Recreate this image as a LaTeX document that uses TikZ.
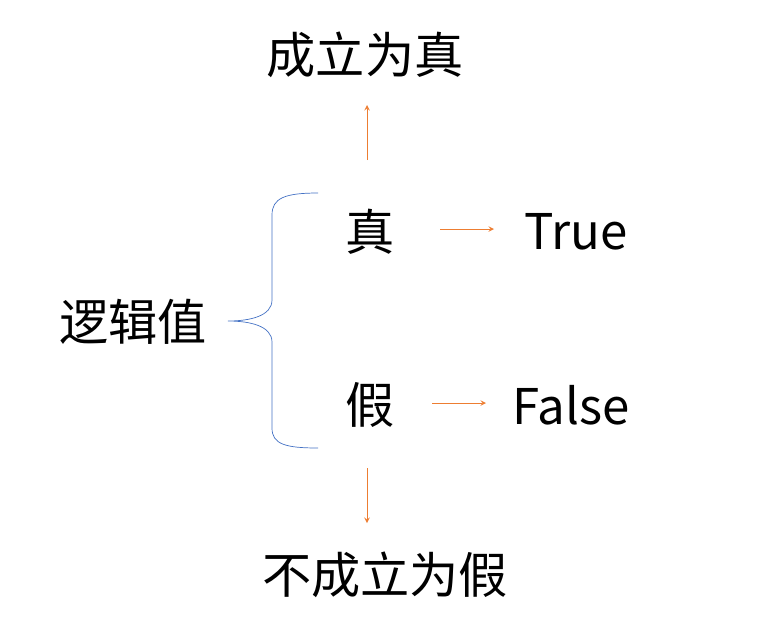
\documentclass[tikz,border=0pt]{standalone}
\usepackage{fontspec}
\setmainfont{Noto Sans CJK SC}
\usetikzlibrary{arrows}
\usetikzlibrary{positioning}
\definecolor{arroworange}{RGB}{237,125,49}
\definecolor{braceblue}{RGB}{68,114,196}

\begin{document}
\begin{tikzpicture}[x=0.02cm, y=-0.02cm, every node/.style={font=\fontsize{28}{32}\selectfont, inner sep=0pt}, arr/.style={->, >=stealth, color=arroworange, thin}]
	  \useasboundingbox (0,0) rectangle (763,637);
	  \node (top) at (365,55) {成立为真};
	  \node (logic) at (133,322) {逻辑值};
	  \node (zhen) at (370,232) {真};
	  \node (jia) at (370,405) {假};
	  \node (true) at (576,232) {True};
	  \node (false) at (571,405) {False};
	  \node (bottom) at (385,575) {不成立为假};
	  \coordinate (uA) at (367,160);
	  \coordinate (uB) at (367,105);
	  \coordinate (dA) at (367,468);
	  \coordinate (dB) at (367,523);
	  \coordinate (tA) at (440,229);
	  \coordinate (tB) at (494,229);
	  \coordinate (fA) at (432,403);
	  \coordinate (fB) at (486,403);

	  \draw[arr] (uA) -- (uB);
	  \draw[arr] (dA) -- (dB);
	  \draw[arr] (tA) -- (tB);
	  \draw[arr] (fA) -- (fB);

	  % brace
	  \draw[braceblue, thin] (318,193) .. controls (285,193) and (272,198) .. (272,215)
	    -- (272,300) .. controls (272,316) and (250,321) .. (228,321)
	    .. controls (250,321) and (272,326) .. (272,342)
	    -- (272,428) .. controls (272,444) and (285,448) .. (318,448);
	\end{tikzpicture}
\end{document}
